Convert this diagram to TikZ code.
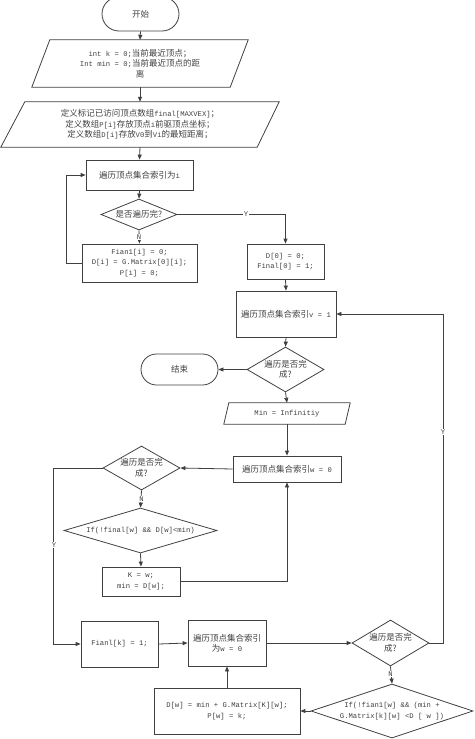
\documentclass[tikz,border=0pt]{standalone}
\usepackage{fontspec}
\newfontfamily\cjk{Noto Sans CJK SC}
\setmonofont[Scale=0.85]{Liberation Mono}
\newcommand\mn[1]{{\ttfamily #1}}
\usetikzlibrary{arrows.meta,shapes.geometric,shapes.misc}
\tikzset{
 ln/.style={draw=black!75, line width=0.8pt},
 txt/.style={font=\cjk\fontsize{8.5}{10.5}\selectfont, text=black!75, align=center},
 boxn/.style={txt, ln, rectangle, inner sep=0pt},
 dia/.style={ln, diamond, inner sep=0pt},
 term/.style={txt, ln, rounded rectangle, inner sep=0pt},
 para/.style={txt, rectangle, inner sep=0pt},
 arr/.style={ln, -{Triangle[length=5pt,width=4pt]}},
 lab/.style={txt, fill=white, inner sep=0.6pt}
}
\begin{document}
\begin{tikzpicture}[x=1pt,y=-1pt]
\useasboundingbox (0,0) rectangle (474,739);
% nodes
\node[term, minimum width=77pt, minimum height=34pt] (st) at (140.5,14) {开始};
\node[para, minimum width=216pt, minimum height=47pt] (p1) at (140,63.5)
 {\mn{int k = 0;}当前最近顶点；\\\mn{Int min = 0;}当前最近顶点的距\\离};
\draw[ln] ([xshift=18pt]p1.north west) -- (p1.north east) -- ([xshift=-18pt]p1.south east) -- (p1.south west) -- cycle;
\node[para, minimum width=278pt, minimum height=45pt] (p2) at (140,124.5)
 {定义标记已访问顶点数组\mn{final[MAXVEX]}；\\定义数组\mn{P[i]}存放顶点\mn{i}前驱顶点坐标；\\定义数组\mn{D[i]}存放\mn{V0}到\mn{Vi}的最短距离；};
\draw[ln] ([xshift=24pt]p2.north west) -- (p2.north east) -- ([xshift=-22pt]p2.south east) -- (p2.south west) -- cycle;
\node[boxn, minimum width=107pt, minimum height=30pt] (bi) at (139.5,175) {遍历顶点集合索引为\mn{i}};
\node[dia, minimum width=76pt, minimum height=31pt] (d1) at (139,214.5) {};
\node[txt] (d1t) at (d1) {是否遍历完?};
\node[boxn, minimum width=115pt, minimum height=38pt] (binit) at (139.5,263)
 {\mn{Fian1[i] = 0;}\\\mn{D[i] = G.Matrix[0][i];}\\\mn{P[i] = 0;}};
\node[boxn, minimum width=77pt, minimum height=35pt] (bd0) at (285.5,261.5)
 {\mn{D[0] = 0;}\\\mn{Final[0] = 1;}};
\node[boxn, minimum width=100pt, minimum height=46pt] (bv) at (286,314) {遍历顶点集合索引\mn{v = 1}};
\node[dia, minimum width=77pt, minimum height=45pt] (d2) at (285.5,369.5) {};
\node[txt] (d2t) at (d2) {遍历是否完\\成?};
\node[term, minimum width=77pt, minimum height=31pt] (en) at (179.5,369.5) {结束};
\node[para, minimum width=126pt, minimum height=21pt] (p3) at (287,413.5) {\mn{Min = Infinitiy}};
\draw[ln] ([xshift=5pt]p3.north west) -- (p3.north east) -- ([xshift=-5pt]p3.south east) -- (p3.south west) -- cycle;
\node[boxn, minimum width=108pt, minimum height=26pt] (bw) at (287,469) {遍历顶点集合索引\mn{w = 0}};
\node[dia, minimum width=77pt, minimum height=44pt] (d3) at (141.5,468) {};
\node[txt] (d3t) at (d3) {遍历是否完\\成?};
\node[dia, minimum width=153pt, minimum height=45pt] (d4) at (140.5,530.5) {};
\node[txt] (d4t) at (d4) {\mn{If(!final[w] \&\& D[w]<min)}};
\node[boxn, minimum width=78pt, minimum height=29pt] (bk) at (141,581.5) {\mn{K = w;}\\\mn{min = D[w];}};
\node[boxn, minimum width=77pt, minimum height=46pt] (bf) at (119.5,644) {\mn{Fianl[k] = 1;}};
\node[boxn, minimum width=78pt, minimum height=46pt] (bw2) at (227,643) {遍历顶点集合索引\\为\mn{w = 0}};
\node[dia, minimum width=77pt, minimum height=46pt] (d5) at (390.5,643) {};
\node[txt] (d5t) at (d5) {遍历是否完\\成?};
\node[dia, minimum width=162pt, minimum height=54pt] (d6) at (392,711) {};
\node[txt] (d6t) at (d6) {\mn{If(!fian1[w] \&\& (min +}\\\mn{G.Matrix[k][w] <D [ w ])}};
\node[boxn, minimum width=146pt, minimum height=46pt] (bdw) at (227,711)
 {\mn{D[w] = min + G.Matrix[K][w];}\\\mn{P[w] = k;}};
% connectors
\draw[arr] (st.south) -- (p1.north);
\draw[arr] (p1.south) -- (p2.north);
\draw[arr] (p2.south) -- (bi.north);
\draw[arr] (bi.south) -- (d1.north);
\draw[arr] (d1.east) -| (bd0.north);
\draw[arr] (d1.south) -- (binit.north);
\draw[arr] (binit.west) -- ++(-15,0) |- (bi.west);
\draw[arr] (bd0.south) -- (bv.north);
\draw[arr] (bv.south) -- (d2.north);
\draw[arr] (d2.west) -- (en.east);
\draw[arr] (d2.south) -- (p3.north);
\draw[arr] (p3.south) -- (bw.north);
\draw[arr] (bw.west) -- (d3.east);
\draw[arr] (d3.west) -- ++(-49,0) |- (bf.west);
\draw[arr] (d3.south) -- (d4.north);
\draw[arr] (d4.south) -- (bk.north);
\draw[arr] (bk.east) -| (bw.south);
\draw[arr] (bf.east) -- (bw2.west);
\draw[arr] (bw2.east) -- (d5.west);
\draw[arr] (d5.east) -- ++(14,0) |- (bv.east);
\draw[arr] (d5.south) -- (d6.north);
\draw[arr] (d6.west) -- (bdw.east);
\draw[arr] (bdw.north) -- (bw2.south);
% labels
\node[lab] (l1) at (246,214.5) {\mn{Y}};
\node[lab] (l2) at (139,237) {\mn{N}};
\node[lab] (l3) at (141.5,499) {\mn{N}};
\node[lab] (l4) at (54,545) {\mn{Y}};
\node[lab] (l5) at (443,432) {\mn{Y}};
\node[lab] (l6) at (390.5,674) {\mn{N}};
\end{tikzpicture}
\end{document}
